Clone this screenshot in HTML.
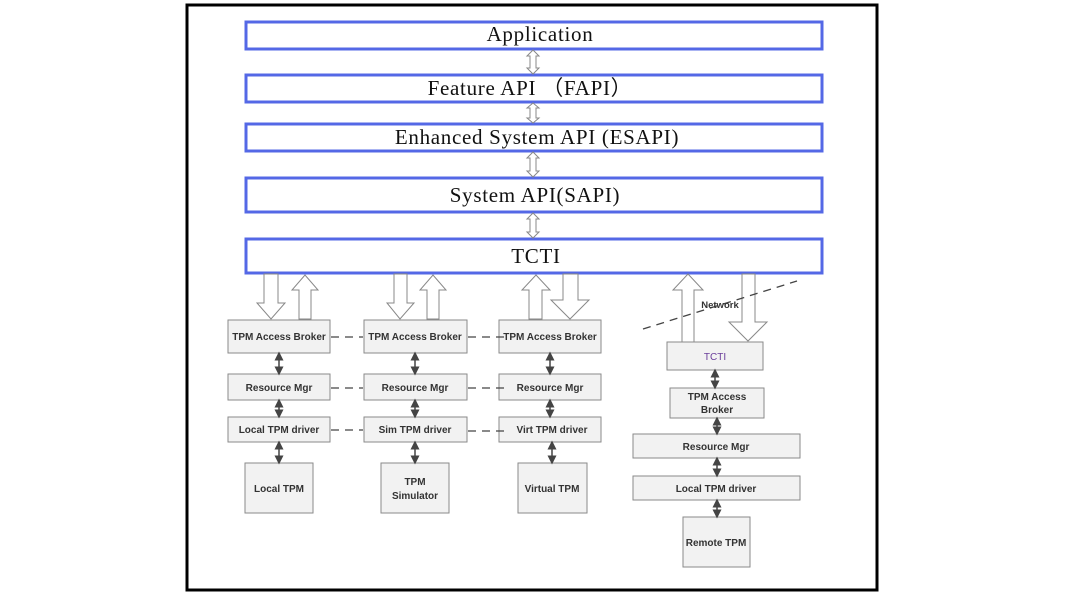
<!DOCTYPE html>
<html><head><meta charset="utf-8"><style>
html,body{margin:0;padding:0;background:#fff;}
svg{display:block}
.bar{fill:#fff;stroke:#5468e6;stroke-width:3}
.bt{font-family:"Liberation Serif",serif;font-size:21px;letter-spacing:0.7px;fill:#111;text-anchor:middle}
.box{fill:#f2f2f2;stroke:#8a8a8a;stroke-width:1}
.st{font-family:"Liberation Sans",sans-serif;font-size:10px;font-weight:bold;fill:#333;text-anchor:middle}
.big{fill:#fff;stroke:#888;stroke-width:1}
.dash{stroke:#444;stroke-width:1.3;stroke-dasharray:8,6;fill:none}
.dl{stroke:#444;stroke-width:1.5}
</style></head><body>
<svg width="1080" height="608" viewBox="0 0 1080 608">
<defs>
<marker id="ah" markerWidth="6" markerHeight="6" refX="3" refY="3" orient="auto-start-reverse"><path d="M0,0 L6,3 L0,6 z" fill="#444"/></marker>
</defs>
<rect x="187" y="5" width="690" height="585" fill="#fff" stroke="#000" stroke-width="3"/>
<rect class="bar" x="246" y="22" width="576" height="27"/>
<text class="bt" x="540" y="41">Application</text>
<rect class="bar" x="246" y="75" width="576" height="27"/>
<text class="bt" x="530" y="95">Feature API （FAPI）</text>
<rect class="bar" x="246" y="124" width="576" height="27"/>
<text class="bt" x="537" y="144">Enhanced System API (ESAPI)</text>
<rect class="bar" x="246" y="178" width="576" height="34"/>
<text class="bt" x="535" y="202">System API(SAPI)</text>
<rect class="bar" x="246" y="239" width="576" height="34"/>
<text class="bt" x="536" y="263">TCTI</text>
<g fill="#fff" stroke="#888" stroke-width="1">
<path d="M533,50 L527,56 L530,56 L530,68 L527,68 L533,74 L539,68 L536,68 L536,56 L539,56 z"/>
<path d="M533,103 L527,108 L530,108 L530,118 L527,118 L533,123 L539,118 L536,118 L536,108 L539,108 z"/>
<path d="M533,152 L527,158 L530,158 L530,171 L527,171 L533,177 L539,171 L536,171 L536,158 L539,158 z"/>
<path d="M533,213 L527,219 L530,219 L530,232 L527,232 L533,238 L539,232 L536,232 L536,219 L539,219 z"/>
</g>
<g class="big">
<path d="M264,274 L278,274 L278,303 L285,303 L271,319 L257,303 L264,303 z"/>
<path d="M299,319 L311,319 L311,290 L318,290 L305,275 L292,290 L299,290 z"/>
<path d="M394,274 L407,274 L407,303 L414,303 L400,319 L387,303 L394,303 z"/>
<path d="M427,319 L439,319 L439,290 L446,290 L433,275 L420,290 L427,290 z"/>
<path d="M529,319 L542,319 L542,290 L550,290 L536,275 L522,290 L529,290 z"/>
<path d="M563,274 L578,274 L578,300 L589,300 L570,319 L551,300 L563,300 z"/>
<path d="M682,342 L694,342 L694,290 L703,290 L688,274 L673,290 L682,290 z"/>
<path d="M742,274 L755,274 L755,322 L767,322 L748,341 L729,322 L742,322 z"/>
</g>
<line x1="643" y1="329" x2="797" y2="281" class="dash"/>
<text class="st" x="720" y="308" style="font-size:9.5px">Network</text>
<g>
<rect class="box" x="228" y="320" width="102" height="33"/><text class="st" x="279" y="340">TPM Access Broker</text>
<rect class="box" x="364" y="320" width="103" height="33"/><text class="st" x="415" y="340">TPM Access Broker</text>
<rect class="box" x="499" y="320" width="102" height="33"/><text class="st" x="550" y="340">TPM Access Broker</text>
<rect class="box" x="228" y="374" width="102" height="26"/><text class="st" x="279" y="391">Resource Mgr</text>
<rect class="box" x="364" y="374" width="103" height="26"/><text class="st" x="415" y="391">Resource Mgr</text>
<rect class="box" x="499" y="374" width="102" height="26"/><text class="st" x="550" y="391">Resource Mgr</text>
<rect class="box" x="228" y="417" width="102" height="25"/><text class="st" x="279" y="433">Local TPM driver</text>
<rect class="box" x="364" y="417" width="103" height="25"/><text class="st" x="415" y="433">Sim TPM driver</text>
<rect class="box" x="499" y="417" width="102" height="25"/><text class="st" x="552" y="433">Virt TPM driver</text>
<rect class="box" x="245" y="463" width="68" height="50"/><text class="st" x="279" y="492">Local TPM</text>
<rect class="box" x="381" y="463" width="68" height="50"/><text class="st" x="415" y="485">TPM</text><text class="st" x="415" y="499">Simulator</text>
<rect class="box" x="518" y="463" width="69" height="50"/><text class="st" x="552" y="492">Virtual TPM</text>
<rect class="box" x="667" y="342" width="96" height="28"/><text class="st" x="715" y="360" style="fill:#6a3d9a;font-weight:normal">TCTI</text>
<rect class="box" x="670" y="388" width="94" height="30"/><text class="st" x="717" y="400">TPM Access</text><text class="st" x="717" y="413">Broker</text>
<rect class="box" x="633" y="434" width="167" height="24"/><text class="st" x="716" y="450">Resource Mgr</text>
<rect class="box" x="633" y="476" width="167" height="24"/><text class="st" x="716" y="492">Local TPM driver</text>
<rect class="box" x="683" y="517" width="67" height="50"/><text class="st" x="716" y="546">Remote TPM</text>
</g>
<line class="dash" x1="331" y1="337" x2="363" y2="337"/>
<line class="dash" x1="468" y1="337" x2="508" y2="337"/>
<line class="dash" x1="331" y1="388" x2="363" y2="388"/>
<line class="dash" x1="468" y1="388" x2="508" y2="388"/>
<line class="dash" x1="331" y1="430" x2="363" y2="430"/>
<line class="dash" x1="468" y1="431" x2="510" y2="431"/>
<g class="dl">
<line x1="279" y1="356" x2="279" y2="371" marker-start="url(#ah)" marker-end="url(#ah)"/>
<line x1="415" y1="356" x2="415" y2="371" marker-start="url(#ah)" marker-end="url(#ah)"/>
<line x1="550" y1="356" x2="550" y2="371" marker-start="url(#ah)" marker-end="url(#ah)"/>
<line x1="279" y1="403" x2="279" y2="414" marker-start="url(#ah)" marker-end="url(#ah)"/>
<line x1="415" y1="403" x2="415" y2="414" marker-start="url(#ah)" marker-end="url(#ah)"/>
<line x1="550" y1="403" x2="550" y2="414" marker-start="url(#ah)" marker-end="url(#ah)"/>
<line x1="279" y1="445" x2="279" y2="460" marker-start="url(#ah)" marker-end="url(#ah)"/>
<line x1="415" y1="445" x2="415" y2="460" marker-start="url(#ah)" marker-end="url(#ah)"/>
<line x1="552" y1="445" x2="552" y2="460" marker-start="url(#ah)" marker-end="url(#ah)"/>
<line x1="715" y1="373" x2="715" y2="385" marker-start="url(#ah)" marker-end="url(#ah)"/>
<line x1="717" y1="421" x2="717" y2="431" marker-start="url(#ah)" marker-end="url(#ah)"/>
<line x1="717" y1="461" x2="717" y2="473" marker-start="url(#ah)" marker-end="url(#ah)"/>
<line x1="717" y1="503" x2="717" y2="514" marker-start="url(#ah)" marker-end="url(#ah)"/>
</g>
</svg>
</body></html>
